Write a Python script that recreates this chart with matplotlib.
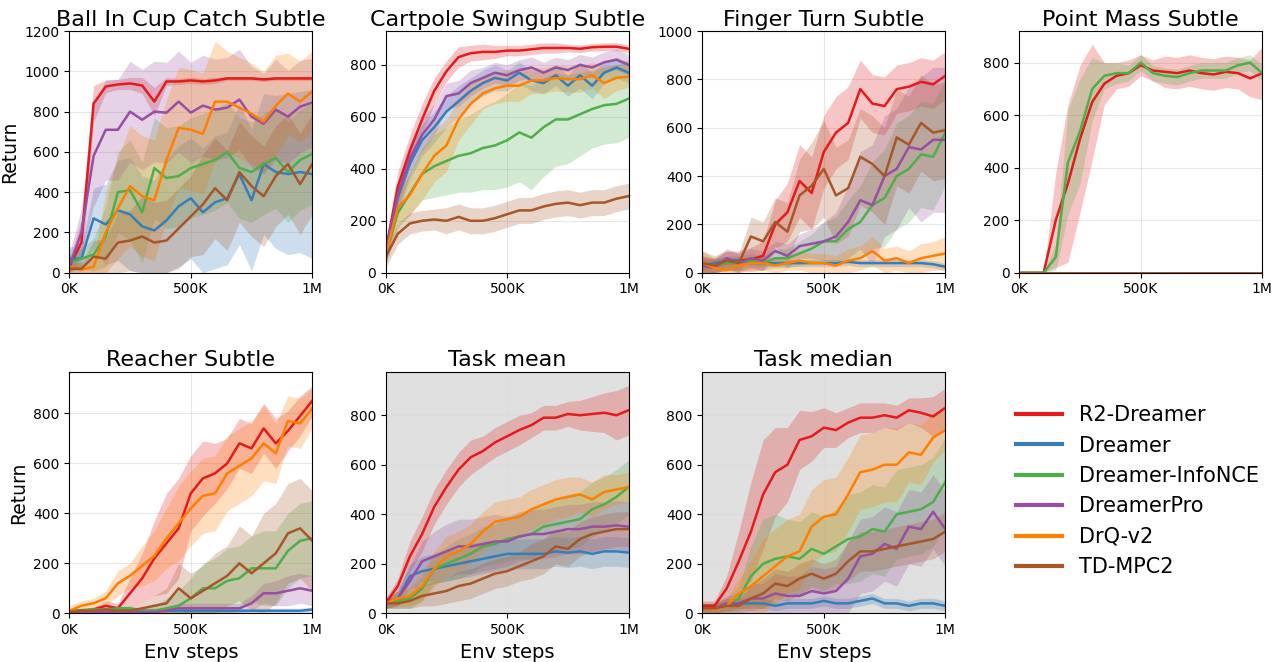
import numpy as np
import matplotlib
matplotlib.use("Agg")
import matplotlib.pyplot as plt

# env steps (thousands)
steps = [0, 50, 100, 150, 200, 250, 300, 350, 400, 450, 500,
         550, 600, 650, 700, 750, 800, 850, 900, 950, 1000]

methods = ["R2-Dreamer", "Dreamer", "Dreamer-InfoNCE", "DreamerPro", "DrQ-v2", "TD-MPC2"]
colors = ["#e41a1c", "#377eb8", "#4daf4a", "#984ea3", "#ff7f00", "#a65628"]

titles = ["Ball In Cup Catch Subtle", "Cartpole Swingup Subtle", "Finger Turn Subtle",
          "Point Mass Subtle", "Reacher Subtle", "Task mean", "Task median"]

# mean returns per task, same order as methods
ball_mean = [
    [30, 150, 840, 925, 935, 940, 930, 850, 950, 950, 955, 950, 955, 965, 965, 965, 960, 965, 965, 965, 965],
    [70, 70, 270, 240, 310, 290, 230, 210, 260, 330, 370, 300, 350, 370, 490, 360, 540, 500, 490, 500, 490],
    [50, 70, 90, 180, 400, 410, 300, 520, 470, 480, 520, 540, 560, 600, 520, 500, 540, 570, 500, 560, 590],
    [30, 200, 580, 710, 710, 800, 760, 800, 795, 850, 795, 830, 810, 820, 860, 775, 740, 810, 775, 825, 845],
    [30, 15, 30, 200, 320, 430, 380, 360, 560, 720, 710, 690, 850, 850, 820, 790, 750, 830, 890, 850, 900],
    [20, 20, 80, 70, 150, 160, 180, 150, 160, 220, 280, 340, 420, 360, 500, 430, 380, 480, 540, 440, 540],
]
ball_spread = [
    [30, 120, 90, 30, 25, 30, 40, 70, 20, 15, 15, 15, 15, 10, 10, 10, 10, 10, 10, 10, 10],
    [60, 60, 150, 200, 250, 280, 250, 250, 300, 300, 300, 320, 330, 330, 350, 350, 350, 380, 400, 400, 420],
    [40, 50, 80, 150, 200, 250, 250, 250, 250, 250, 250, 250, 250, 250, 250, 250, 250, 250, 250, 250, 250],
    [60, 120, 250, 250, 250, 250, 250, 250, 250, 250, 250, 250, 250, 250, 250, 250, 250, 250, 230, 230, 220],
    [30, 20, 40, 200, 250, 300, 300, 300, 300, 300, 300, 300, 300, 250, 250, 250, 250, 250, 200, 200, 200],
    [30, 30, 80, 100, 150, 150, 200, 200, 200, 200, 200, 250, 250, 250, 250, 250, 250, 250, 250, 250, 250],
]

cart_mean = [
    [80, 330, 470, 590, 700, 775, 830, 845, 850, 850, 855, 855, 860, 865, 865, 865, 862, 868, 870, 870, 862],
    [80, 290, 420, 510, 560, 620, 660, 700, 730, 750, 740, 770, 740, 730, 760, 720, 760, 720, 770, 790, 770],
    [70, 230, 305, 380, 410, 430, 450, 460, 480, 490, 510, 540, 520, 560, 590, 590, 610, 630, 645, 650, 670],
    [80, 300, 440, 530, 590, 680, 690, 730, 750, 770, 760, 780, 790, 770, 790, 780, 800, 790, 810, 820, 800],
    [70, 250, 300, 380, 450, 490, 590, 650, 690, 710, 720, 720, 740, 740, 750, 745, 745, 760, 730, 750, 755],
    [60, 150, 190, 200, 205, 200, 215, 200, 200, 210, 225, 240, 240, 255, 265, 270, 260, 270, 270, 285, 295],
]
cart_spread = [
    [40, 60, 60, 60, 50, 40, 40, 30, 30, 25, 20, 20, 20, 20, 20, 15, 15, 15, 15, 15, 15],
    [40, 60, 60, 60, 60, 60, 60, 50, 50, 50, 40, 40, 40, 40, 40, 40, 50, 50, 40, 40, 40],
    [40, 60, 80, 100, 120, 130, 140, 150, 160, 170, 180, 190, 200, 190, 180, 170, 160, 150, 150, 150, 150],
    [40, 60, 60, 60, 60, 50, 50, 50, 40, 40, 40, 40, 40, 40, 40, 40, 40, 40, 40, 40, 40],
    [40, 60, 80, 100, 100, 100, 80, 80, 60, 60, 60, 60, 50, 50, 50, 50, 50, 50, 60, 50, 40],
    [40, 40, 40, 40, 40, 50, 50, 50, 50, 50, 50, 50, 50, 50, 50, 50, 50, 50, 50, 50, 50],
]

finger_mean = [
    [30, 25, 50, 50, 55, 70, 200, 250, 380, 330, 500, 580, 620, 760, 700, 690, 760, 770, 790, 780, 815],
    [30, 40, 50, 50, 40, 40, 40, 40, 40, 40, 40, 40, 45, 40, 40, 40, 40, 40, 40, 35, 25],
    [30, 30, 40, 40, 50, 40, 60, 60, 80, 100, 130, 130, 180, 210, 280, 310, 400, 430, 490, 480, 580],
    [30, 20, 60, 40, 60, 50, 90, 70, 110, 120, 130, 150, 210, 300, 280, 400, 430, 520, 510, 550, 550],
    [40, 20, 10, 30, 40, 40, 30, 40, 50, 40, 40, 30, 50, 60, 90, 50, 60, 40, 60, 70, 80],
    [40, 30, 50, 40, 150, 130, 210, 170, 320, 360, 430, 320, 350, 480, 450, 400, 560, 530, 620, 580, 590],
]
finger_spread = [
    [40, 30, 40, 40, 50, 60, 100, 120, 150, 150, 150, 150, 150, 120, 120, 120, 100, 100, 100, 100, 100],
    [20, 20, 15, 15, 15, 15, 15, 15, 15, 15, 15, 15, 15, 15, 15, 15, 15, 15, 15, 15, 15],
    [30, 30, 30, 30, 30, 30, 40, 40, 50, 60, 80, 100, 120, 150, 180, 200, 220, 220, 220, 220, 220],
    [40, 40, 40, 40, 40, 40, 40, 50, 50, 60, 80, 100, 150, 200, 250, 250, 250, 250, 300, 300, 300],
    [50, 40, 30, 30, 30, 30, 30, 30, 40, 40, 40, 40, 50, 50, 60, 50, 50, 50, 60, 60, 70],
    [50, 40, 40, 40, 80, 80, 100, 120, 150, 180, 200, 200, 200, 200, 200, 200, 200, 200, 200, 200, 200],
]

point_mean = [
    [0, 0, 0, 200, 340, 510, 650, 720, 750, 760, 790, 770, 765, 760, 770, 760, 755, 765, 760, 740, 760],
    [0] * 21,
    [0, 0, 0, 60, 420, 540, 700, 750, 760, 760, 800, 760, 750, 745, 760, 770, 770, 770, 790, 800, 760],
    [0] * 21,
    [0] * 21,
    [0] * 21,
]
point_spread = [
    [0, 0, 0, 180, 300, 280, 220, 80, 50, 50, 40, 40, 60, 60, 60, 60, 60, 60, 60, 70, 100],
    [0] * 21,
    [0, 0, 0, 50, 200, 200, 120, 50, 40, 30, 30, 30, 30, 30, 30, 30, 30, 30, 30, 30, 30],
    [0] * 21,
    [0] * 21,
    [0] * 21,
]

reacher_mean = [
    [5, 10, 15, 30, 20, 80, 140, 220, 280, 340, 480, 540, 560, 600, 680, 660, 740, 680, 730, 790, 850],
    [10, 10, 10, 10, 10, 10, 10, 10, 10, 10, 10, 10, 10, 10, 10, 10, 10, 10, 10, 10, 15],
    [10, 10, 15, 15, 20, 20, 10, 10, 20, 30, 60, 100, 100, 130, 140, 180, 180, 180, 250, 290, 300],
    [5, 5, 5, 5, 5, 5, 5, 5, 10, 20, 20, 20, 20, 20, 20, 40, 80, 80, 90, 100, 90],
    [10, 30, 40, 60, 120, 150, 190, 230, 300, 360, 420, 470, 480, 560, 590, 620, 680, 640, 770, 760, 820],
    [5, 10, 10, 15, 10, 10, 20, 30, 40, 100, 60, 90, 120, 150, 200, 160, 200, 240, 320, 340, 290],
]
reacher_spread = [
    [10, 10, 10, 20, 20, 60, 100, 150, 200, 200, 150, 150, 120, 100, 100, 100, 100, 100, 80, 80, 60],
    [10, 10, 10, 10, 10, 10, 10, 10, 10, 10, 10, 10, 10, 10, 10, 10, 10, 10, 10, 10, 10],
    [10, 10, 10, 10, 10, 10, 10, 20, 40, 60, 80, 100, 120, 130, 130, 130, 150, 150, 150, 150, 150],
    [10, 10, 10, 10, 10, 10, 10, 10, 15, 20, 20, 20, 20, 20, 20, 30, 40, 50, 60, 60, 60],
    [20, 20, 20, 30, 50, 50, 80, 100, 120, 150, 150, 150, 150, 150, 150, 150, 150, 120, 100, 100, 80],
    [10, 10, 10, 10, 10, 10, 20, 40, 60, 100, 100, 100, 120, 120, 150, 150, 200, 200, 200, 200, 200],
]

tmean_mean = [
    [40, 110, 230, 320, 430, 510, 580, 630, 655, 690, 715, 740, 760, 790, 790, 805, 800, 805, 810, 800, 820],
    [40, 60, 150, 170, 180, 190, 200, 210, 220, 230, 240, 240, 240, 240, 250, 245, 250, 240, 250, 250, 245],
    [40, 50, 60, 100, 180, 200, 220, 240, 270, 280, 300, 310, 320, 350, 360, 370, 380, 420, 440, 470, 510],
    [40, 60, 130, 210, 230, 250, 270, 270, 280, 290, 290, 310, 320, 320, 330, 340, 340, 350, 350, 355, 350],
    [40, 60, 70, 110, 180, 230, 250, 280, 330, 370, 380, 390, 420, 440, 460, 470, 480, 460, 490, 500, 510],
    [40, 40, 50, 70, 80, 90, 110, 120, 140, 160, 170, 190, 210, 230, 270, 260, 300, 320, 330, 340, 340],
]
tmean_spread = [
    [20, 30, 60, 70, 70, 70, 70, 70, 60, 60, 60, 60, 50, 50, 50, 50, 60, 70, 80, 100, 100],
    [20, 30, 50, 60, 60, 60, 60, 60, 60, 60, 60, 60, 60, 60, 60, 60, 60, 60, 60, 60, 60],
    [20, 30, 40, 50, 60, 70, 80, 80, 80, 80, 90, 90, 100, 100, 100, 110, 110, 110, 110, 110, 110],
    [20, 30, 60, 80, 100, 110, 110, 110, 110, 110, 100, 100, 100, 100, 100, 100, 100, 100, 100, 100, 100],
    [20, 30, 40, 60, 70, 80, 80, 80, 80, 80, 80, 80, 80, 80, 80, 80, 70, 70, 70, 60, 60],
    [20, 20, 30, 40, 50, 50, 60, 60, 60, 60, 60, 60, 70, 70, 70, 70, 70, 70, 70, 70, 70],
]

tmed_mean = [
    [30, 30, 100, 210, 330, 480, 570, 600, 700, 715, 750, 740, 770, 790, 790, 800, 790, 820, 810, 795, 830],
    [20, 20, 30, 40, 40, 40, 30, 40, 40, 40, 50, 40, 40, 50, 60, 40, 40, 30, 40, 40, 30],
    [20, 20, 30, 60, 150, 200, 220, 230, 220, 260, 240, 270, 300, 310, 340, 330, 400, 410, 420, 450, 530],
    [20, 20, 40, 40, 60, 60, 80, 70, 70, 90, 80, 90, 140, 230, 240, 280, 260, 350, 340, 410, 340],
    [20, 15, 30, 80, 110, 150, 190, 230, 250, 350, 390, 400, 480, 570, 580, 600, 600, 650, 640, 710, 740],
    [20, 20, 30, 30, 60, 80, 120, 110, 140, 160, 140, 160, 210, 250, 250, 260, 270, 280, 290, 300, 330],
]
tmed_spread = [
    [20, 20, 50, 120, 200, 220, 180, 150, 120, 100, 80, 70, 60, 60, 60, 50, 50, 50, 60, 80, 80],
    [20, 20, 20, 20, 20, 20, 20, 20, 20, 20, 20, 20, 20, 20, 20, 20, 20, 20, 20, 20, 20],
    [20, 20, 30, 50, 120, 180, 180, 150, 150, 150, 150, 150, 180, 180, 180, 180, 180, 180, 180, 180, 180],
    [20, 20, 30, 40, 60, 60, 80, 80, 80, 100, 100, 100, 150, 150, 150, 150, 150, 150, 150, 150, 150],
    [20, 20, 30, 60, 100, 150, 150, 150, 150, 150, 150, 150, 150, 150, 150, 150, 150, 120, 120, 100, 80],
    [20, 20, 30, 30, 50, 60, 60, 60, 60, 60, 60, 60, 80, 80, 80, 80, 80, 80, 80, 80, 80],
]

means = [ball_mean, cart_mean, finger_mean, point_mean, reacher_mean, tmean_mean, tmed_mean]
spreads = [ball_spread, cart_spread, finger_spread, point_spread, reacher_spread, tmean_spread, tmed_spread]
ytops = [1200, 930, 1000, 920, 967, 976, 976]

fig = plt.figure(figsize=(12.74, 6.62), dpi=100)

lefts = [0.0544, 0.3027, 0.5513, 0.8001]
w, h = 0.1907, 0.365
positions = [(lefts[i], 0.588) for i in range(4)] + [(lefts[i], 0.0736) for i in range(3)]

x = np.array(steps) * 1000
handles = []
for k, (mean_set, spread_set) in enumerate(zip(means, spreads)):
    ax = fig.add_axes([positions[k][0], positions[k][1], w, h])
    for m, name in enumerate(methods):
        mu = np.array(mean_set[m], dtype=float)
        sd = np.array(spread_set[m], dtype=float)
        lo = np.clip(mu - sd, 0, None)
        hi = mu + sd
        ax.fill_between(x, lo, hi, color=colors[m], alpha=0.25, linewidth=0)
        line, = ax.plot(x, mu, color=colors[m], lw=1.8, label=name)
        if k == 0:
            handles.append(line)
    ax.set_xlim(0, 1_000_000)
    ax.set_ylim(0, ytops[k])
    ax.set_xticks([0, 500_000, 1_000_000])
    ax.set_xticklabels(["0K", "500K", "1M"])
    ax.tick_params(labelsize=10)
    ax.grid(True, color="#dddddd", lw=0.8, alpha=0.7)
    ax.set_axisbelow(True)
    ax.set_title(titles[k], fontsize=16, pad=4)
    if k >= 5:
        ax.set_facecolor("#e0e0e0")
    if k in (0, 4):
        ax.set_ylabel("Return", fontsize=13.5)
    if k >= 4:
        ax.set_xlabel("Env steps", fontsize=14)

leg = fig.legend(handles, methods, loc="center left", bbox_to_anchor=(0.783, 0.258),
                 frameon=False, fontsize=15, handlelength=2.2, handletextpad=0.8)
for lh in leg.get_lines():
    lh.set_linewidth(3)

fig.savefig("out.png", dpi=100)
